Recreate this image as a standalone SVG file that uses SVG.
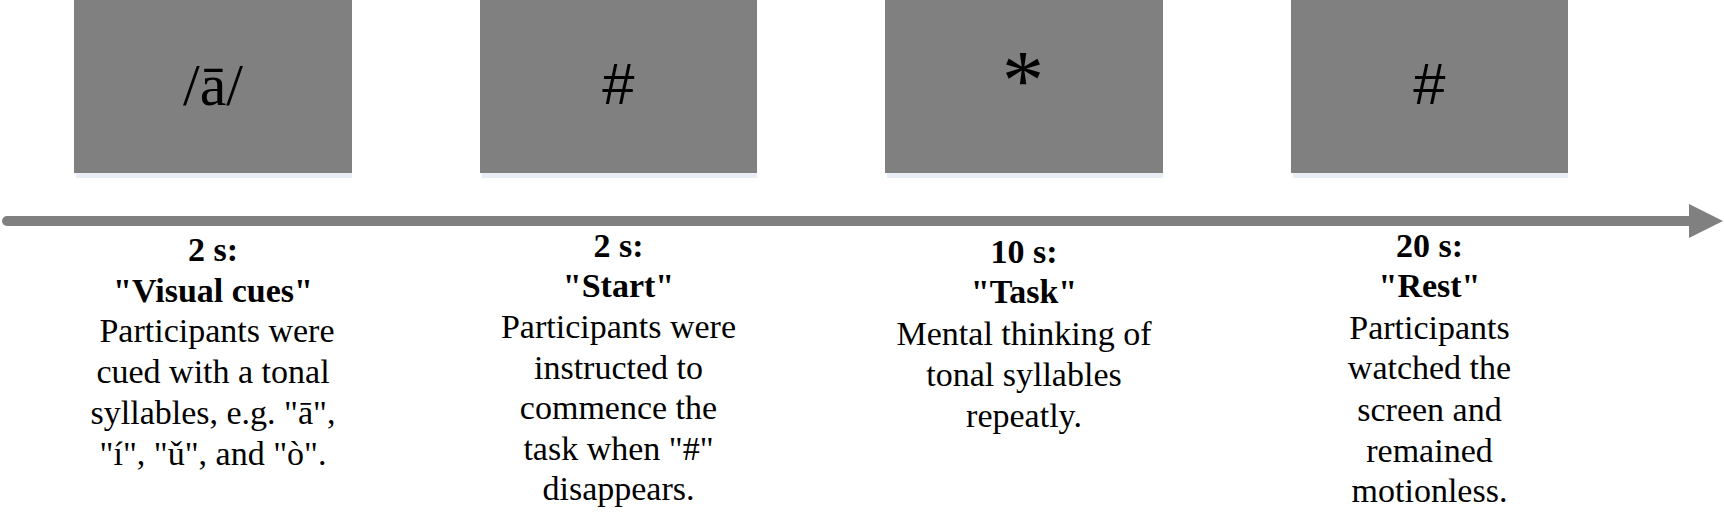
<svg xmlns="http://www.w3.org/2000/svg" width="1724" height="513" viewBox="0 0 1724 513">
  <style>
    .box { fill: #808080; }
    .shadow { fill: #e9eef6; }
    .sym { font-family: "Liberation Serif", "Times New Roman", serif; fill: #000; text-anchor: middle; }
    .hash { font-family: "Liberation Sans", Arial, sans-serif; font-size: 58px; fill: #000; text-anchor: middle; }
    .lbl { font-family: "Liberation Serif", "Times New Roman", serif; font-size: 34px; fill: #000; text-anchor: middle; }
    .b { font-weight: bold; }
  </style>
  <rect width="1724" height="513" fill="#ffffff"/>

  <g id="connectors">
    <line x1="7" y1="221" x2="1692" y2="221" stroke="#808080" stroke-width="10" stroke-linecap="round"/>
    <polygon points="1689,204 1723,221 1689,238" fill="#808080"/>
  </g>

  <g id="node-visual-cues">
    <rect class="shadow" x="76" y="173" width="276" height="5"/>
    <rect class="box" x="74" y="0" width="278" height="173"/>
    <text class="sym" x="213" y="105" font-size="60">/ā/</text>
    <text class="lbl b" x="213" y="261">2 s:</text>
    <text class="lbl b" x="213" y="302">"Visual cues"</text>
    <text class="lbl" x="217" y="342">Participants were</text>
    <text class="lbl" x="213" y="383">cued with a tonal</text>
    <text class="lbl" x="213" y="424">syllables, e.g. "ā",</text>
    <text class="lbl" x="213" y="465">"í", "ǔ", and "ò".</text>
  </g>

  <g id="node-start">
    <rect class="shadow" x="482" y="173" width="275" height="5"/>
    <rect class="box" x="480" y="0" width="277" height="173"/>
    <text class="hash" x="618.5" y="104">#</text>
    <text class="lbl b" x="618.5" y="257">2 s:</text>
    <text class="lbl b" x="618.5" y="297">"Start"</text>
    <text class="lbl" x="618.5" y="338">Participants were</text>
    <text class="lbl" x="618.5" y="379">instructed to</text>
    <text class="lbl" x="618.5" y="419">commence the</text>
    <text class="lbl" x="618.5" y="460">task when "#"</text>
    <text class="lbl" x="618.5" y="500">disappears.</text>
  </g>

  <g id="node-task">
    <rect class="shadow" x="887" y="173" width="276" height="5"/>
    <rect class="box" x="885" y="0" width="278" height="173"/>
    <text class="sym" x="1023" y="109" font-size="84">*</text>
    <text class="lbl b" x="1024" y="263">10 s:</text>
    <text class="lbl b" x="1024" y="303">"Task"</text>
    <text class="lbl" x="1024" y="345">Mental thinking of</text>
    <text class="lbl" x="1024" y="386">tonal syllables</text>
    <text class="lbl" x="1024" y="427">repeatly.</text>
  </g>

  <g id="node-rest">
    <rect class="shadow" x="1293" y="173" width="275" height="5"/>
    <rect class="box" x="1291" y="0" width="277" height="173"/>
    <text class="hash" x="1429.5" y="104">#</text>
    <text class="lbl b" x="1429.5" y="257">20 s:</text>
    <text class="lbl b" x="1429.5" y="297">"Rest"</text>
    <text class="lbl" x="1429.5" y="339">Participants</text>
    <text class="lbl" x="1429.5" y="379">watched the</text>
    <text class="lbl" x="1429.5" y="421">screen and</text>
    <text class="lbl" x="1429.5" y="462">remained</text>
    <text class="lbl" x="1429.5" y="502">motionless.</text>
  </g>
</svg>
